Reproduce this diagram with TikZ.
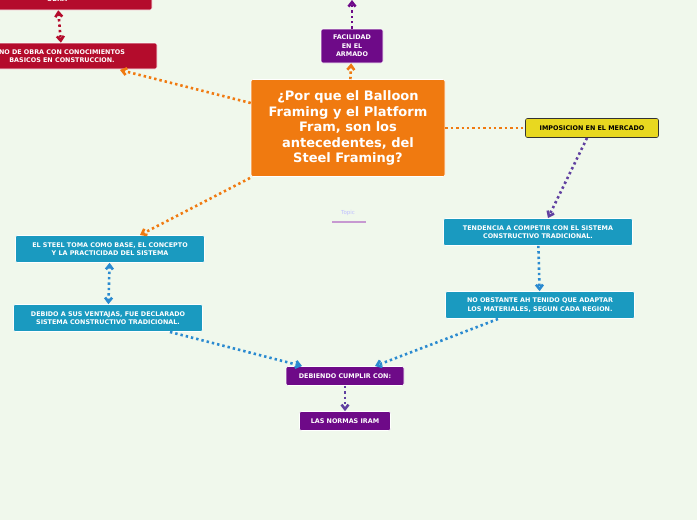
\documentclass[tikz,border=0pt]{standalone}
\usepackage{fontspec}
\setmainfont{DejaVu Sans}
\usetikzlibrary{arrows.meta}
\definecolor{bg}{HTML}{F0F8EC}
\definecolor{orng}{HTML}{F07A10}
\definecolor{redb}{HTML}{B40C2C}
\definecolor{purp}{HTML}{6E0A88}
\definecolor{blub}{HTML}{1A9AC0}
\definecolor{yell}{HTML}{E8D820}
\definecolor{lnblue}{HTML}{2A8AD0}
\definecolor{lnpurp}{HTML}{6040A0}
\begin{document}
\begin{tikzpicture}[x=1pt, y=-1pt, >={Straight Barb[length=4.5pt,width=7pt]},
    box/.style = {rounded corners=2pt, draw=white, line width=0.6pt, text=white, font=\fontsize{6.4}{8.4}\selectfont\bfseries, align=center, inner sep=0pt},
    link/.style = {line width=2.6pt, dash pattern=on 2.4pt off 3pt}]
    % Background
    \fill[bg] (0,0) rectangle (697,520);
    \useasboundingbox (0,0) rectangle (697,520);

    % Nodes
    \node[box, fill=orng, minimum width=194pt, minimum height=97pt, font=\fontsize{13}{15.5}\selectfont\bfseries] (main) at (348,128) {¿Por que el Balloon\\Framing y el Platform\\Fram, son los\\antecedentes, del\\Steel Framing?};
    \node[box, fill=redb, minimum width=190pt, minimum height=30pt] (obra) at (57,-5) {\phantom{X}\\OBRA};
    \node[box, fill=redb, minimum width=190pt, minimum height=26pt] (mano) at (62,56) {NO DE OBRA CON CONOCIMIENTOS\\BASICOS EN CONSTRUCCION.};
    \node[box, fill=purp, minimum width=62pt, minimum height=34pt] (facil) at (352,46) {FACILIDAD\\EN EL\\ARMADO};
    \coordinate (faciltop) at (352,0);
    \node[box, fill=yell, draw=black!80, text=black, minimum width=133pt, minimum height=19pt] (impo) at (592,128) {IMPOSICION EN EL MERCADO};
    \node[box, fill=blub, minimum width=189pt, minimum height=27pt] (tend) at (538,232) {TENDENCIA A COMPETIR CON EL SISTEMA\\CONSTRUCTIVO TRADICIONAL.};
    \node[box, fill=blub, minimum width=189pt, minimum height=27pt] (obst) at (540,305) {NO OBSTANTE AH TENIDO QUE ADAPTAR\\LOS MATERIALES, SEGUN CADA REGION.};
    \node[box, fill=blub, minimum width=189pt, minimum height=27pt] (steel) at (110,249) {EL STEEL TOMA COMO BASE, EL CONCEPTO\\Y LA PRACTICIDAD DEL SISTEMA};
    \node[box, fill=blub, minimum width=189pt, minimum height=27pt] (debido) at (108,318) {DEBIDO A SUS VENTAJAS, FUE DECLARADO\\SISTEMA CONSTRUCTIVO TRADICIONAL.};
    \node[box, fill=purp, minimum width=118pt, minimum height=19pt] (cumplir) at (345,376) {DEBIENDO CUMPLIR CON:};
    \node[box, fill=purp, minimum width=91pt, minimum height=19pt] (iram) at (345,421) {LAS NORMAS IRAM};
    \node[font=\fontsize{5.5}{6}\selectfont, text=blue!25] (topic) at (348,213) {Topic};
    \draw[blue!40!purple!40, line width=1.2pt] (332,222) -- (366,222);

    % Edges
    \draw[link, orng, ->] (main.west |- 0,103) -- (120,70);
    \draw[link, orng, ->] (main) -- (facil);
    \draw[link, orng] (main) -- (impo);
    \draw[link, orng, ->] (250,178) -- (140,235);
    \draw[link, purp, ->] (facil) -- (faciltop);
    \draw[link, redb, <->] (obra) -- (mano);
    \draw[link, lnpurp, ->] (587,138) -- (548,218);
    \draw[link, lnblue, <->] (steel) -- (debido);
    \draw[link, lnblue, ->] (tend) -- (obst);
    \draw[link, lnblue, ->] (170,332) -- (302,366);
    \draw[link, lnblue, ->] (498,319) -- (375,366);
    \draw[link, lnpurp, ->] (cumplir) -- (iram);
\end{tikzpicture}
\end{document}
